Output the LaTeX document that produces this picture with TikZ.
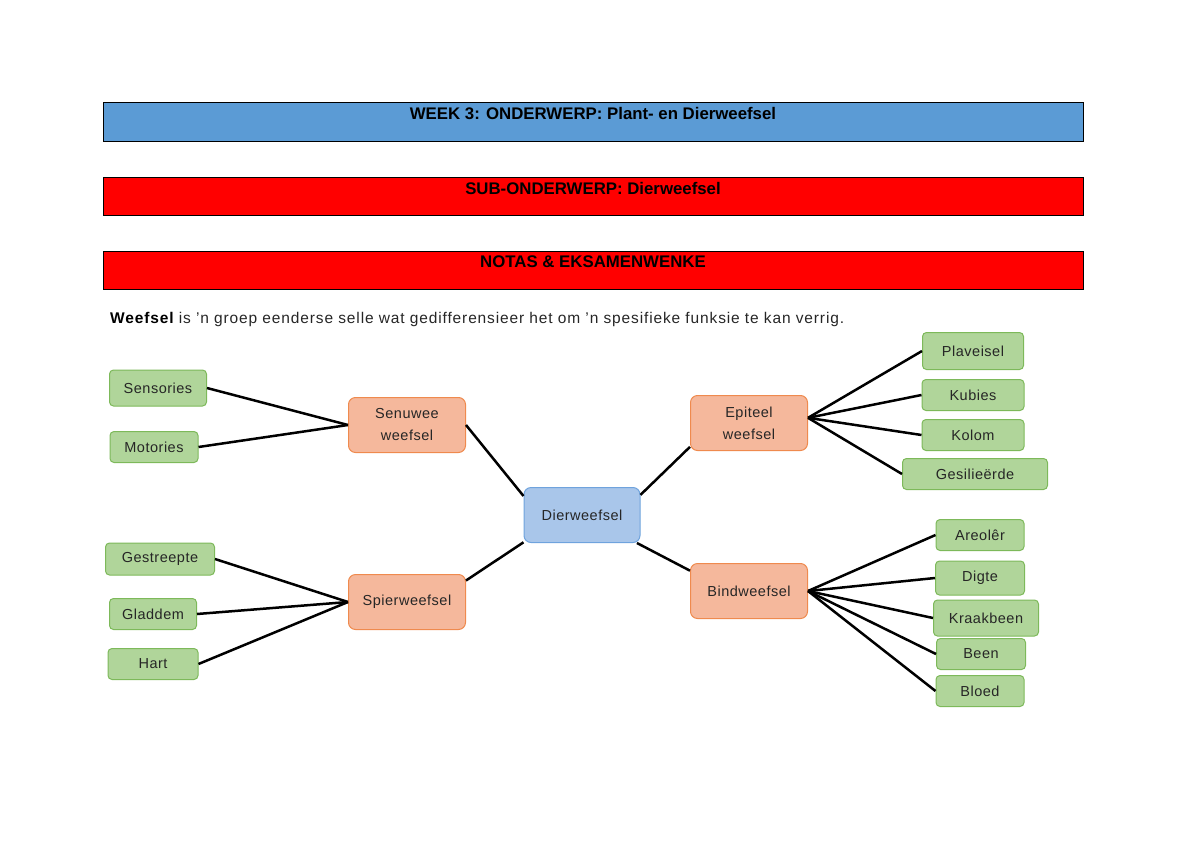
\documentclass[tikz,border=0pt]{standalone}
\usepackage{fontspec}
\setmainfont{Liberation Sans}
\newfontfamily\spaced[LetterSpace=5.6]{Liberation Sans}
\newfontfamily\nodefont[LetterSpace=3.5]{Liberation Sans}
\definecolor{barblue}{HTML}{5B9BD5}
\definecolor{leaffill}{HTML}{B0D59A}
\definecolor{leafline}{HTML}{7DB95A}
\definecolor{midfill}{HTML}{F5B89C}
\definecolor{midline}{HTML}{EF8A4E}
\definecolor{rootfill}{HTML}{A9C6EA}
\definecolor{rootline}{HTML}{6FA3DD}
\definecolor{txt}{HTML}{262626}
\tikzset{
    leaf/.style={draw=leafline, fill=leaffill, rounded corners=4pt, line width=1pt,
        inner sep=0pt, text=txt, font=\nodefont\fontsize{14.5}{17}\selectfont},
    mid/.style={draw=midline, fill=midfill, rounded corners=7pt, line width=1pt,
        minimum width=117pt, minimum height=55pt, inner sep=0pt, align=center,
        text=txt, font=\nodefont\fontsize{14.5}{22}\selectfont},
    link/.style={line width=2.5pt, black},
    bar/.style={draw=black, line width=0.8pt},
    bartext/.style={font=\fontsize{16.8}{18}\selectfont\bfseries}
}
\begin{document}
\begin{tikzpicture}[x=1pt, y=-1pt]
    \useasboundingbox (0,0) rectangle (1200,849);
    % header bars
    \draw[bar, fill=barblue] (103,102) rectangle (1083,141);
    \node[bartext] (week) at (593,114) {WEEK 3: ONDERWERP: Plant- en Dierweefsel};
    \draw[bar, fill=red] (103,177) rectangle (1083,215);
    \node[bartext] (sub) at (593,188) {SUB-ONDERWERP: Dierweefsel};
    \draw[bar, fill=red] (103,251) rectangle (1083,289);
    \node[bartext] (notas) at (593,262) {NOTAS \& EKSAMENWENKE};
    \node[anchor=west, inner sep=0pt, text=txt] (def) at (110,319)
        {\spaced\fontsize{15.5}{18}\selectfont\textbf{\color{black}Weefsel} is ’n groep eenderse selle wat gedifferensieer het om ’n spesifieke funksie te kan verrig.};

    % centre
    \node[draw=rootline, fill=rootfill, rounded corners=7pt, line width=1pt,
        minimum width=116pt, minimum height=55pt, text=txt,
        font=\nodefont\fontsize{14.5}{17}\selectfont] (dier) at (582,515) {Dierweefsel};
    \node[mid] (sen) at (407,425) {Senuwee\\weefsel};
    \node[mid] (spier) at (407,602) {Spierweefsel};
    \node[mid] (epi) at (749,423) {Epiteel\\weefsel};
    \node[mid] (bind) at (749,591) {Bindweefsel};

    % left leaves
    \node[leaf, minimum width=97pt, minimum height=36pt] (sens) at (158,388) {Sensories};
    \node[leaf, minimum width=88pt, minimum height=31pt] (mot) at (154,447) {Motories};
    \node[leaf, minimum width=109pt, minimum height=32pt] (gest) at (160,559) {Gestreepte};
    \node[leaf, minimum width=87pt, minimum height=31pt] (glad) at (153,614) {Gladdem};
    \node[leaf, minimum width=90pt, minimum height=31pt] (hart) at (153,664) {Hart};

    % right leaves
    \node[leaf, minimum width=101pt, minimum height=37pt] (plav) at (973,351) {Plaveisel};
    \node[leaf, minimum width=102pt, minimum height=31pt] (kub) at (973,395) {Kubies};
    \node[leaf, minimum width=102pt, minimum height=31pt] (kol) at (973,435) {Kolom};
    \node[leaf, minimum width=145pt, minimum height=31pt] (gesil) at (975,474) {Gesilieërde};
    \node[leaf, minimum width=88pt, minimum height=31pt] (areo) at (980,535) {Areolêr};
    \node[leaf, minimum width=89pt, minimum height=34pt] (digte) at (980,578) {Digte};
    \node[leaf, minimum width=105pt, minimum height=36pt] (kraak) at (986,618) {Kraakbeen};
    \node[leaf, minimum width=89pt, minimum height=31pt] (been) at (981,654) {Been};
    \node[leaf, minimum width=88pt, minimum height=31pt] (bloed) at (980,691) {Bloed};

    % links
    \draw[link] (sens.east) -- (sen.west);
    \draw[link] (mot.east) -- (sen.west);
    \draw[link] (gest.east) -- (spier.west);
    \draw[link] (glad.east) -- (spier.west);
    \draw[link] (hart.east) -- (spier.west);
    \draw[link] (sen.east) -- (dier.162);
    \draw[link] (spier.20) -- (dier.205);
    \draw[link] (dier.19) -- (epi.202);
    \draw[link] (dier.-27) -- (bind.161);
    \foreach \n in {plav,kub,kol,gesil}
        \draw[link] (epi.5) -- (\n.west);
    \foreach \n in {areo,digte,kraak,been,bloed}
        \draw[link] (bind.east) -- (\n.west);
\end{tikzpicture}
\end{document}
